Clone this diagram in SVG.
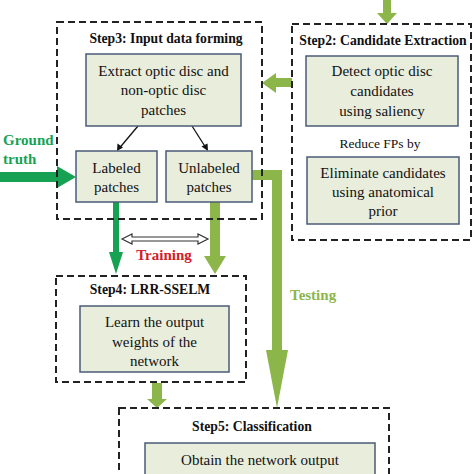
<svg xmlns="http://www.w3.org/2000/svg" width="474" height="474" viewBox="0 0 474 474">
<style>
.step{fill:none;stroke:#222;stroke-width:2;stroke-dasharray:7,4}
.box{fill:#e8eddc;stroke:#4b5b78;stroke-width:1.5}
.t{font-family:"Liberation Serif","Times New Roman",serif;font-size:15px;fill:#111;text-anchor:middle}
.h{font-family:"Liberation Serif","Times New Roman",serif;font-size:13.7px;font-weight:bold;fill:#111;text-anchor:middle}
.g{fill:#17a253}
.o{fill:#8cb64a}
.lbl{font-family:"Liberation Serif","Times New Roman",serif;font-size:15px;font-weight:bold}
</style>
<rect width="474" height="474" fill="#fff"/>
<g id="connectors">
  <!-- top into step2 -->
  <rect class="o" x="383" y="0" width="8" height="14"/>
  <polygon class="o" points="377,13 397,13 387,24"/>
  <!-- step2 to step3 -->
  <rect class="o" x="275" y="78" width="17" height="9"/>
  <polygon class="o" points="276,73 276,93 262,83"/>
  <!-- extract to patches -->
  <line x1="138" y1="126" x2="119.5" y2="148" stroke="#111" stroke-width="1.3"/>
  <polygon points="117,151 117.5,143.5 123,147.5" fill="#111"/>
  <line x1="192" y1="126" x2="206" y2="148" stroke="#111" stroke-width="1.3"/>
  <polygon points="208,151 201.5,146.5 207.5,143.5" fill="#111"/>
  <!-- ground truth -->
  <rect class="g" x="0" y="172" width="58" height="10"/>
  <polygon class="g" points="57,166 57,188 76,177"/>
  <!-- testing path -->
  <polyline points="252,175 277,175 277,352" fill="none" stroke="#8cb64a" stroke-width="10"/>
  <polygon class="o" points="266,350 288,350 277,408"/>
  <!-- training arrows -->
  <rect class="g" x="113" y="202" width="6" height="51"/>
  <polygon class="g" points="109,252 123,252 116,274"/>
  <rect class="o" x="210" y="202" width="10" height="55"/>
  <polygon class="o" points="204,256 226,256 215,274"/>
  <polygon points="122,239 132,234 132,237 198,237 198,234 208,239 198,244 198,241 132,241 132,244" fill="#fff" stroke="#333" stroke-width="1.2"/>
  <!-- step4 to step5 -->
  <rect class="o" x="152" y="383" width="10" height="17"/>
  <polygon class="o" points="147,399 167,399 157,408"/>
</g>
<g id="labels">
  <text class="lbl" x="3" y="145" fill="#17a253">Ground</text>
  <text class="lbl" x="3" y="164" fill="#17a253">truth</text>
  <text class="lbl" x="164" y="260" fill="#d0202a" text-anchor="middle">Training</text>
  <text class="lbl" x="290" y="300" fill="#8cb64a">Testing</text>
</g>
<g id="step3">
  <rect class="step" x="57" y="22" width="205" height="197"/>
  <text class="h" x="166" y="43">Step3: Input data forming</text>
</g>
<g id="extract">
  <rect class="box" x="86" y="54" width="155" height="72"/>
  <text class="t" x="163.5" y="76">Extract optic disc and</text>
  <text class="t" x="163.5" y="95">non-optic disc</text>
  <text class="t" x="163.5" y="115">patches</text>
</g>
<g id="labeled">
  <rect class="box" x="76" y="151" width="81" height="51"/>
  <text class="t" x="116.5" y="173">Labeled</text>
  <text class="t" x="116.5" y="192">patches</text>
</g>
<g id="unlabeled">
  <rect class="box" x="166" y="151" width="86" height="51"/>
  <text class="t" x="209" y="173">Unlabeled</text>
  <text class="t" x="209" y="192">patches</text>
</g>
<g id="step2">
  <rect class="step" x="292" y="24" width="179" height="216"/>
  <text class="h" x="383" y="45">Step2: Candidate Extraction</text>
  <text class="t" x="380" y="148" style="font-size:13.5px">Reduce FPs by</text>
</g>
<g id="detect">
  <rect class="box" x="306" y="56" width="152" height="70"/>
  <text class="t" x="382" y="76">Detect optic disc</text>
  <text class="t" x="382" y="96">candidates</text>
  <text class="t" x="382" y="116">using saliency</text>
</g>
<g id="eliminate">
  <rect class="box" x="307" y="157" width="152" height="67"/>
  <text class="t" x="383" y="178">Eliminate candidates</text>
  <text class="t" x="383" y="197">using anatomical</text>
  <text class="t" x="383" y="216">prior</text>
</g>
<g id="step4">
  <rect class="step" x="56" y="276" width="190" height="106"/>
  <text class="h" x="150" y="294">Step4: LRR-SSELM</text>
</g>
<g id="learn">
  <rect class="box" x="80" y="306" width="149" height="66"/>
  <text class="t" x="154.5" y="327">Learn the output</text>
  <text class="t" x="154.5" y="347">weights of the</text>
  <text class="t" x="154.5" y="366">network</text>
</g>
<g id="step5">
  <rect class="step" x="119" y="408" width="270" height="80"/>
  <text class="h" x="252" y="431">Step5: Classification</text>
</g>
<g id="obtain">
  <rect class="box" x="145" y="443" width="230" height="50"/>
  <text class="t" x="260" y="465">Obtain the network output</text>
</g>
</svg>
